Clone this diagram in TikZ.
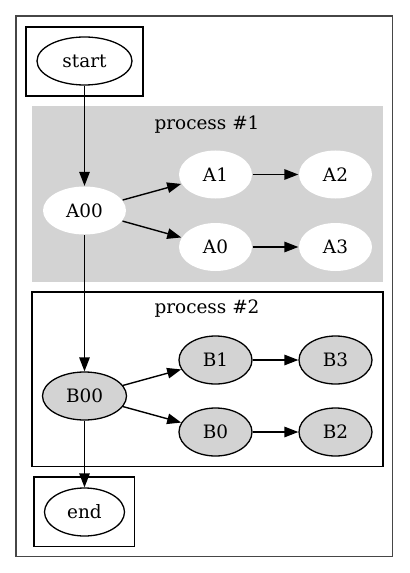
\documentclass[tikz,border=0pt]{standalone}
\usepackage{fontspec}
\setmainfont{DejaVu Serif}
\usetikzlibrary{shapes.geometric,arrows.meta}
\definecolor{lgray}{RGB}{211,211,211}
\definecolor{dgray}{RGB}{70,70,70}
\begin{document}
\begin{tikzpicture}[x=1bp,y=-1bp,
  every node/.style={font=\fontsize{18.5}{22}\selectfont},
  nd/.style={ellipse,inner sep=0pt,minimum height=48bp,line width=1.3bp},
  wnode/.style={nd,fill=white,minimum width=73bp},
  gnode/.style={nd,draw,fill=lgray,minimum width=73bp},
  onode/.style={nd,draw,fill=white},
  clus/.style={draw,line width=1.2bp},
  edge/.style={line width=1.4bp,-{Triangle[length=14bp,width=10.5bp]}},
  lbl/.style={font=\fontsize{18.5}{22}\selectfont}]
\useasboundingbox (0,0) rectangle (409,573);
\fill[white] (0,0) rectangle (409,573);
% outer
\draw[dgray,line width=1.6bp] (16,16) rectangle (392.5,556.5);
% clusters
\draw[clus] (26,27) rectangle (143,96);
\fill[lgray] (32,106) rectangle (383,281.5);
\node[lbl] (p1) at (207,125) {process \#1};
\draw[clus] (32,292) rectangle (383,466.5);
\node[lbl] (p2) at (207,309) {process \#2};
\draw[clus] (34,477) rectangle (134.5,546.5);
% nodes
\node[onode,minimum width=95bp] (start) at (84.5,61) {start};
\node[wnode,minimum width=83bp] (A00) at (84.5,210.5) {A00};
\node[wnode] (A1) at (215.5,174.5) {A1};
\node[wnode] (A2) at (335.5,174.5) {A2};
\node[wnode] (A0) at (215.5,247) {A0};
\node[wnode] (A3) at (335.5,247) {A3};
\node[gnode,minimum width=84bp] (B00) at (84.5,396) {B00};
\node[gnode] (B1) at (215.5,360) {B1};
\node[gnode] (B3) at (335.5,360) {B3};
\node[gnode] (B0) at (215.5,432) {B0};
\node[gnode] (B2) at (335.5,432) {B2};
\node[onode,minimum width=80bp] (end) at (84.5,512) {end};
% edges
\draw[edge] (start) -- (A00);
\draw[edge] (A00) -- (A1);
\draw[edge] (A00) -- (A0);
\draw[edge] (A1) -- (A2);
\draw[edge] (A0) -- (A3);
\draw[edge] (A00) -- (B00);
\draw[edge] (B00) -- (B1);
\draw[edge] (B00) -- (B0);
\draw[edge] (B1) -- (B3);
\draw[edge] (B0) -- (B2);
\draw[edge] (B00) -- (end);
\end{tikzpicture}
\end{document}
